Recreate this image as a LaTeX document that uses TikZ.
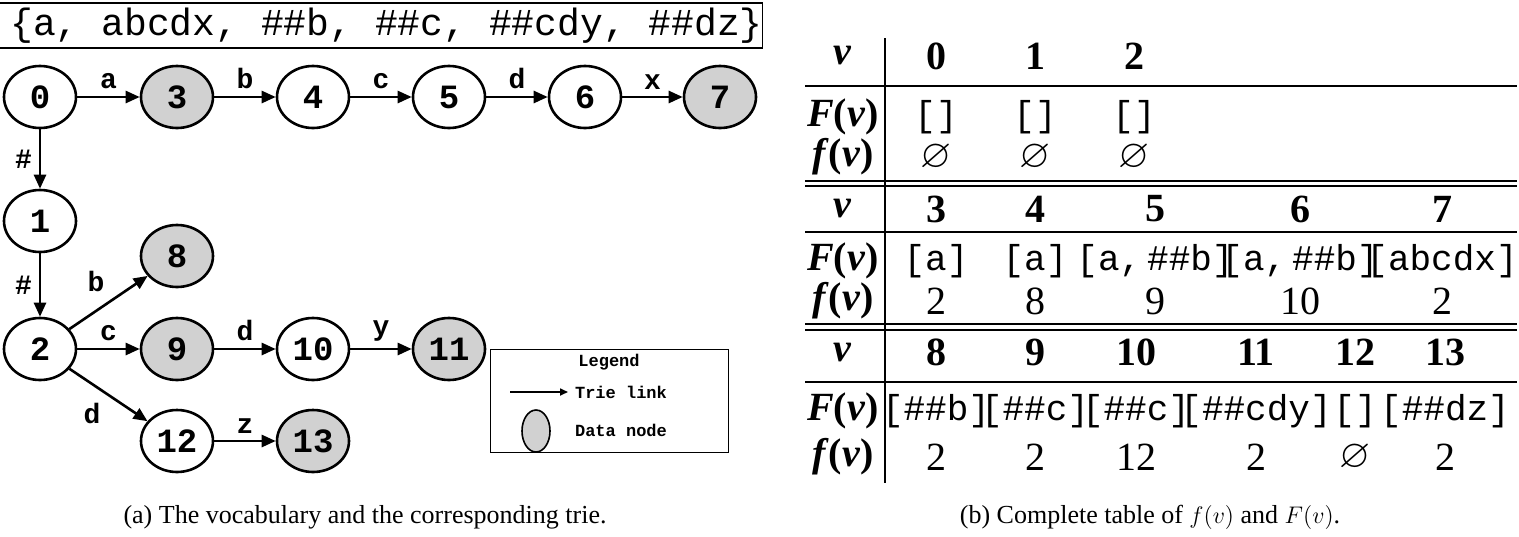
\documentclass[tikz,border=0pt]{standalone}
\usepackage{amssymb}
\usepackage{fontspec}
\setmainfont{Liberation Serif}
\setmonofont{Liberation Mono}
\usetikzlibrary{arrows.meta,shapes.geometric}
\begin{document}
\begin{tikzpicture}[x=0.5pt,y=-0.5pt,
  tn/.style={ellipse,draw,line width=1.3pt,minimum width=36pt,minimum height=31pt,inner sep=0pt,font=\ttfamily\bfseries\fontsize{17}{17}\selectfont},
  dn/.style={tn,fill=black!18},
  lk/.style={-{Triangle[length=7pt,width=6pt]},line width=1.3pt},
  el/.style={font=\ttfamily\bfseries\fontsize{14}{14}\selectfont},
  tc/.style={font=\fontsize{20}{20}\selectfont},
  tt/.style={font=\ttfamily\fontsize{18}{18}\selectfont},
  hd/.style={font=\bfseries\fontsize{20}{20}\selectfont},
  ln/.style={line width=0.6pt}]
\useasboundingbox (0,0) rectangle (1519,536);
% vocabulary box
\node[draw,line width=0.7pt,minimum width=359.5pt,minimum height=22.5pt,inner sep=0pt] (voc) at (362.5,25.5)
 {\fontsize{19}{19}\selectfont\textbf{\textit{V}}: \ttfamily\{a, abcdx, \#\#b, \#\#c, \#\#cdy, \#\#dz\}};
% nodes
\node[tn] (n0) at (40,97) {0};
\node[dn] (n3) at (177,97) {3};
\node[tn] (n4) at (313,97) {4};
\node[tn] (n5) at (449,97) {5};
\node[tn] (n6) at (585,97) {6};
\node[dn] (n7) at (720,97) {7};
\node[tn] (n1) at (40,221) {1};
\node[dn] (n8) at (177,256) {8};
\node[tn] (n2) at (40,349) {2};
\node[dn] (n9) at (177,349) {9};
\node[tn] (n10) at (313,349) {10};
\node[dn] (n11) at (449,349) {11};
\node[tn] (n12) at (177,441) {12};
\node[dn] (n13) at (313,441) {13};
\draw[lk] (n0) -- node[el,above]{a} (n3);
\draw[lk] (n3) -- node[el,above]{b} (n4);
\draw[lk] (n4) -- node[el,above]{c} (n5);
\draw[lk] (n5) -- node[el,above]{d} (n6);
\draw[lk] (n6) -- node[el,above]{x} (n7);
\draw[lk] (n0) -- node[el,left]{\#} (n1);
\draw[lk] (n1) -- node[el,left]{\#} (n2);
\draw[lk] (n2) -- node[el,above left,pos=0.55]{b} (n8);
\draw[lk] (n2) -- node[el,above]{c} (n9);
\draw[lk] (n2) -- node[el,below left,pos=0.5]{d} (n12);
\draw[lk] (n9) -- node[el,above]{d} (n10);
\draw[lk] (n10) -- node[el,above]{y} (n11);
\draw[lk] (n12) -- node[el,above]{z} (n13);
% legend
\node[draw,line width=0.5pt,minimum width=119pt,minimum height=51.5pt,inner sep=0pt] (leg) at (609,400.5) {};
\node[font=\ttfamily\bfseries\fontsize{8.5}{8.5}\selectfont] (legt) at (609,362) {Legend};
\coordinate (la) at (510,392);
\node[font=\ttfamily\bfseries\fontsize{8.5}{8.5}\selectfont,anchor=west] (lt) at (568,392) {Trie link};
\draw[-{Triangle[length=4pt,width=3.5pt]},line width=0.8pt] (la) -- (lt.west);
\node[ellipse,draw,fill=black!18,line width=0.8pt,minimum width=14pt,minimum height=21pt,inner sep=0pt] (ld) at (536,431) {};
\node[font=\ttfamily\bfseries\fontsize{8.5}{8.5}\selectfont,anchor=west] (ldt) at (568,430) {Data node};
% captions
\node[font=\fontsize{13}{13}\selectfont] (capa) at (365,517) {(a) The vocabulary and the corresponding trie.};
\node[font=\fontsize{13}{13}\selectfont] (capb) at (1150,517) {(b) Complete table of $f(v)$ and $F(v)$.};
% table lines
\draw[ln] (885,38) -- (885,483);
\draw[ln] (805,86) -- (1517,86);
\draw[ln] (805,181) -- (1517,181);
\draw[ln] (805,186) -- (1517,186);
\draw[ln] (805,232) -- (1517,232);
\draw[ln] (805,324) -- (1517,324);
\draw[ln] (805,330) -- (1517,330);
\draw[ln] (805,382) -- (1517,382);
% row labels
\foreach \y/\n in {56/a,209/b,352/c}{\node[hd] (v\n) at (843,\y) {\textbf{\textit{v}}};}
\foreach \y/\n in {117/a,261/b,411/c}{\node[hd] (F\n) at (843,\y) {\textbf{\textit{F}(\textit{v})}};}
\foreach \y/\n in {157/a,301/b,457/c}{\node[hd] (f\n) at (843,\y) {\textbf{\textit{f}(\textit{v})}};}
% block 1
\foreach \x/\l in {936/0,1035/1,1134/2}{
 \node[hd] (h\l) at (\x,56) {\l};
 \node[tt] (F\l) at (\x,117) {[]};
 \node[tc] (f\l) at (\x,157) {$\varnothing$};}
% block 2
\foreach \x/\l/\F/\f in {936/3/[a]/2,1035/4/[a]/8,1155/5/{[a,\,\#\#b]}/9,1300/6/{[a,\,\#\#b]}/10,1442/7/[abcdx]/2}{
 \node[hd] (h\l) at (\x,209) {\l};
 \node[tt,inner sep=0pt] (F\l) at (\x,261) {\F};
 \node[tc] (f\l) at (\x,301) {\f};}
% block 3
\foreach \x/\l/\F/\f in {936/8/[\#\#b]/2,1035/9/[\#\#c]/2,1136/10/[\#\#c]/12,1256/11/[\#\#cdy]/2,1355/12/[]/{$\varnothing$},1445/13/[\#\#dz]/2}{
 \node[hd] (h\l) at (\x,352) {\l};
 \node[tt,inner sep=0pt] (F\l) at (\x,411) {\F};
 \node[tc] (f\l) at (\x,457) {\f};}
\end{tikzpicture}
\end{document}
